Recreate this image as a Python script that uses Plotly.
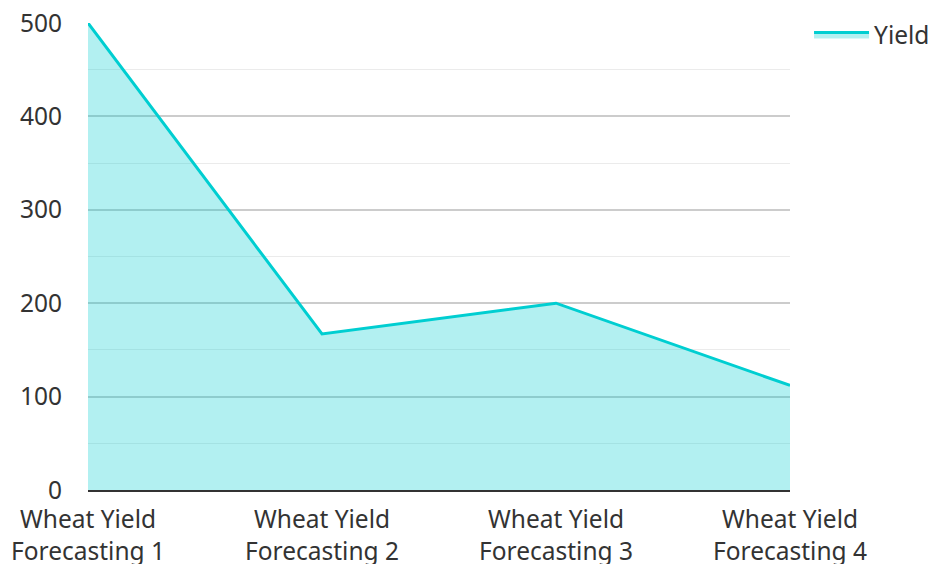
import plotly.graph_objects as go

categories = ["Wheat Yield<br>Forecasting 1", "Wheat Yield<br>Forecasting 2",
              "Wheat Yield<br>Forecasting 3", "Wheat Yield<br>Forecasting 4"]
yield_values = [500, 167, 200, 112]
y_ticks = [0, 100, 200, 300, 400, 500]

fig = go.Figure()
fig.add_trace(go.Scatter(
    x=categories, y=yield_values, name="Yield", mode="lines",
    line=dict(color="#00CED1", width=3),
    fill="tozeroy", fillcolor="rgba(0,206,209,0.3)",
))

FS = 24.5
fig.update_layout(
    width=931, height=564,
    margin=dict(l=88, r=141, t=23, b=74),
    paper_bgcolor="white", plot_bgcolor="white",
    font=dict(family="Noto Sans, Open Sans, sans-serif", size=FS, color="#333333"),
    showlegend=True,
    legend=dict(xref="container", yref="container", x=0.869, y=0.9787,
                xanchor="left", yanchor="top", itemwidth=55,
                font=dict(size=FS, color="#333333"), bgcolor="rgba(0,0,0,0)"),
    xaxis=dict(range=[0, 3], showgrid=False, showline=True, linecolor="#333333",
               linewidth=2, ticks="", automargin=False, ticklabelstandoff=7,
               tickfont=dict(size=FS, color="#333333")),
    yaxis=dict(range=[0, 500], tickvals=y_ticks, showgrid=True, gridcolor="#cccccc",
               gridwidth=1.5, zeroline=False, showline=False, ticks="",
               automargin=False, ticklabelstandoff=25, ticklabeloverflow="allow",
               minor=dict(dtick=50, showgrid=True, gridcolor="#ebebeb", gridwidth=1),
               tickfont=dict(size=FS, color="#333333")),
)

fig.write_html("out.html", config={"displayModeBar": False},
               post_script="document.body.style.margin='0';")
